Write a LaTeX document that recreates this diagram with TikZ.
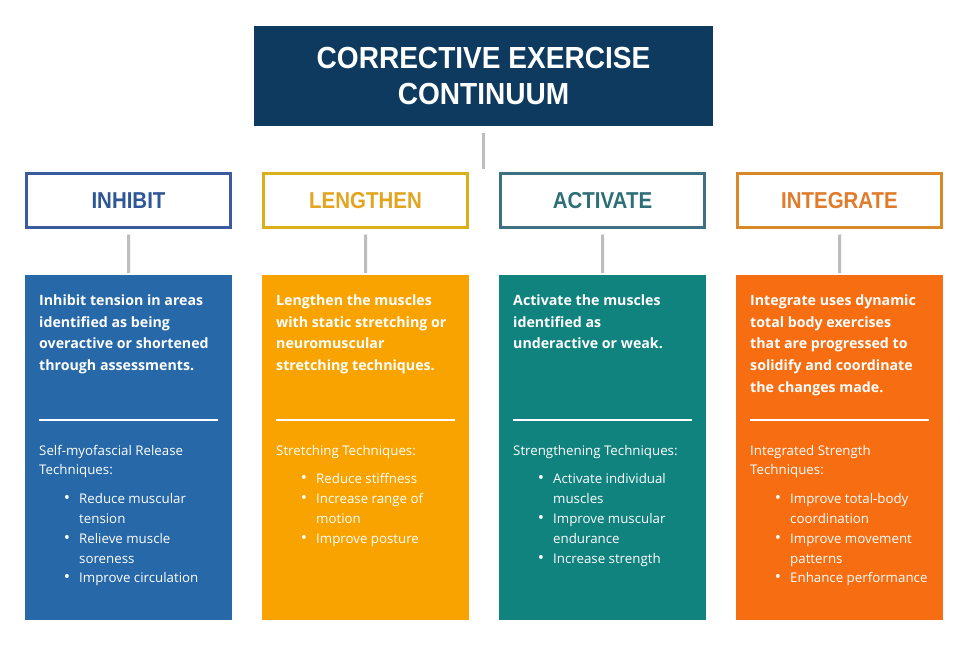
\documentclass[tikz,border=0pt]{standalone}
\usepackage{fontspec}
\setmainfont{Open Sans}
\newfontfamily\headfont{Liberation Sans}
\definecolor{navy}{HTML}{0D3A5E}
\definecolor{cblue}{HTML}{2768A9}
\definecolor{cyel}{HTML}{F9A300}
\definecolor{cteal}{HTML}{11837F}
\definecolor{corg}{HTML}{F76D12}
\definecolor{hblue}{HTML}{3A5C9E}
\definecolor{tblue}{HTML}{2F5797}
\definecolor{hyel}{HTML}{D9AF1A}
\definecolor{tyel}{HTML}{E3A51F}
\definecolor{hteal}{HTML}{3E6F82}
\definecolor{tteal}{HTML}{2D6F77}
\definecolor{horg}{HTML}{D98A28}
\definecolor{torg}{HTML}{E07B2B}
\definecolor{conncol}{HTML}{BDBDBD}
\newcommand\itm[1]{\par\hangindent=40pt\hangafter=0\leavevmode\llap{\scalebox{1.25}{\textbullet}\hspace{9pt}}#1}
\newcommand\hd[1]{\scalebox{0.89}[1]{#1}}
\newcommand\ttl[1]{\scalebox{0.92}[1]{#1}}
\tikzset{
  titlebox/.style={fill=navy, minimum width=459pt, minimum height=100pt, inner sep=0pt,
    text=white, font=\headfont\bfseries\fontsize{30.5}{36}\selectfont, align=center},
  headbox/.style={draw=#1, line width=3pt, fill=white, minimum width=204pt, minimum height=54pt, inner sep=0pt,
    font=\headfont\bfseries\fontsize{23}{26}\selectfont},
  bodybox/.style={fill=#1, minimum width=207pt, minimum height=345pt, inner sep=0pt, anchor=north west},
  boldtxt/.style={anchor=base west, inner sep=0pt, text=white, font=\bfseries\fontsize{14.2}{21.7}\selectfont},
  regtxt/.style={anchor=base west, inner sep=0pt, text=white, font=\fontsize{13.3}{19.8}\selectfont},
  conn/.style={draw=conncol, line width=3pt},
  rulecol/.style={draw=white, line width=2pt}
}
\begin{document}
\begin{tikzpicture}[x=1pt,y=-1pt]
\useasboundingbox[fill=white] (0,0) rectangle (974,650);

% title
\node[titlebox] (title) at (483.5,76) {\ttl{CORRECTIVE EXERCISE}\\\ttl{CONTINUUM}};
\coordinate (tEnd) at (483.5,169);
\draw[conn, shorten <=7pt] (title.south) -- (tEnd);

% headers
\node[headbox=hblue, text=tblue] (h1) at (128.5,200.5) {\hd{INHIBIT}};
\node[headbox=hyel, text=tyel] (h2) at (365.5,200.5) {\hd{LENGTHEN}};
\node[headbox=hteal, text=tteal] (h3) at (602.5,200.5) {\hd{ACTIVATE}};
\node[headbox=horg, text=torg] (h4) at (839.5,200.5) {\hd{INTEGRATE}};

% bodies
\node[bodybox=cblue] (b1) at (25,275) {};
\node[bodybox=cyel] (b2) at (262,275) {};
\node[bodybox=cteal] (b3) at (499,275) {};
\node[bodybox=corg] (b4) at (736,275) {};

\foreach \i in {1,2,3,4}{
  \draw[conn, shorten <=5.5pt, shorten >=2pt] (h\i.south) -- (b\i.north);
}

% rules
\foreach \L in {25,262,499,736}{
  \draw[rulecol] (\L+14,420) -- (\L+193,420);
}

% bold texts
\node[boldtxt] (t1) at (39,305.5) {\parbox[t]{190pt}{Inhibit tension in areas\\identified as being\\overactive or shortened\\through assessments.}};
\node[boldtxt] (t2) at (276,305.5) {\parbox[t]{190pt}{Lengthen the muscles\\with static stretching or\\neuromuscular\\stretching techniques.}};
\node[boldtxt] (t3) at (513,305.5) {\parbox[t]{190pt}{Activate the muscles\\identified as\\underactive or weak.}};
\node[boldtxt] (t4) at (750,305.5) {\parbox[t]{190pt}{Integrate uses dynamic\\total body exercises\\that are progressed to\\solidify and coordinate\\the changes made.}};

% regular texts
\node[regtxt] (r1) at (39,455) {\parbox[t]{190pt}{Self-myofascial Release\\Techniques:\par\vspace{9pt}%
  \itm{Reduce muscular\\tension}\itm{Relieve muscle\\soreness}\itm{Improve circulation}}};
\node[regtxt] (r2) at (276,455) {\parbox[t]{190pt}{Stretching Techniques:\par\vspace{9pt}%
  \itm{Reduce stiffness}\itm{Increase range of\\motion}\itm{Improve posture}}};
\node[regtxt] (r3) at (513,455) {\parbox[t]{190pt}{Strengthening Techniques:\par\vspace{9pt}%
  \itm{Activate individual\\muscles}\itm{Improve muscular\\endurance}\itm{Increase strength}}};
\node[regtxt] (r4) at (750,455) {\parbox[t]{190pt}{Integrated Strength\\Techniques:\par\vspace{9pt}%
  \itm{Improve total-body\\coordination}\itm{Improve movement\\patterns}\itm{Enhance performance}}};
\end{tikzpicture}
\end{document}
